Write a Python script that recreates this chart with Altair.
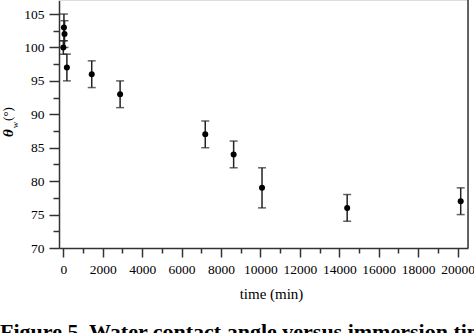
import altair as alt
import pandas as pd

# data
TIME = [0, 30, 60, 180, 1440, 2880, 7200, 8640, 10080, 14400, 20160]
ANGLE = [100, 103, 102, 97, 96, 93, 87, 84, 79, 76, 77]
ERR_LO = [99, 101, 100, 95, 94, 91, 85, 82, 76, 74, 75]
ERR_HI = [101, 105, 104, 99, 98, 95, 89, 86, 82, 78, 79]

X_TICKS = [0, 1000, 2000, 3000, 4000, 5000, 6000, 7000, 8000, 9000, 10000,
           11000, 12000, 13000, 14000, 15000, 16000, 17000, 18000, 19000, 20000]
Y_TICKS = [70, 72.5, 75, 77.5, 80, 82.5, 85, 87.5, 90, 92.5, 95, 97.5, 100, 102.5, 105]

X_TITLE = "time (min)"
CAPTION = "Figure  5.   Water  contact  angle  versus  immersion  time"

df = pd.DataFrame({"t": TIME, "a": ANGLE, "lo": ERR_LO, "hi": ERR_HI})
one = pd.DataFrame({"k": [0]})

W, H = 409, 248
FONT = "Liberation Serif"
AX = "#333333"

xscale = alt.Scale(domain=[-220, 20530], nice=False, zero=False)
yscale = alt.Scale(domain=[70, 107.1], nice=False, zero=False)

xaxis = alt.Axis(
    values=X_TICKS,
    labelExpr="datum.value % 2000 === 0 ? datum.label : ''",
    tickSize={"expr": "datum.value % 2000 === 0 ? 9 : 5"},
    format="d",
    grid=False,
    labelOverlap=False,
    labelFont=FONT,
    labelFontSize=13.5,
    labelColor="black",
    title=X_TITLE,
    titleFont=FONT,
    titleFontSize=15,
    titleFontWeight="normal",
    titleColor="black",
    titlePadding=11,
    titleX=212,
    labelPadding=5,
    domainColor=AX, domainWidth=1.5, tickColor=AX, tickWidth=1.5,
)
yaxis = alt.Axis(
    values=Y_TICKS,
    labelExpr="datum.value % 5 === 0 ? datum.label : ''",
    tickSize={"expr": "datum.value % 5 === 0 ? 10 : 6"},
    format="d",
    grid=False,
    labelOverlap=False,
    labelFont=FONT,
    labelFontSize=13.5,
    labelColor="black",
    title=None,
    labelPadding=5,
    domainColor=AX, domainWidth=1.5, tickColor=AX, tickWidth=1.5,
)

base = alt.Chart(df)
X = alt.X("t:Q", scale=xscale, axis=xaxis)

bars = base.mark_rule(color="#222222", strokeWidth=1.5).encode(
    x=X,
    y=alt.Y("lo:Q", scale=yscale, axis=yaxis),
    y2="hi:Q",
)
cap_lo = base.mark_tick(color="#222222", thickness=1.5, size=8, orient="horizontal").encode(
    x=X, y=alt.Y("lo:Q", scale=yscale, axis=yaxis)
)
cap_hi = base.mark_tick(color="#222222", thickness=1.5, size=8, orient="horizontal").encode(
    x=X, y=alt.Y("hi:Q", scale=yscale, axis=yaxis)
)
pts = base.mark_circle(color="black", opacity=1, size=36).encode(
    x=X, y=alt.Y("a:Q", scale=yscale, axis=yaxis)
)

frame = alt.Chart(one).mark_rule(color=AX, strokeWidth=1.5).encode(
    x=alt.value(W), y=alt.value(0), y2=alt.value(H)
)
topframe = alt.Chart(one).mark_rule(color="#dddddd", strokeWidth=1).encode(
    x=alt.value(0), x2=alt.value(W), y=alt.value(0.5)
)

theta = alt.Chart(one).mark_text(
    text="θ", angle=270, font=FONT, fontSize=15, fontStyle="italic", fontWeight="bold",
    align="center", baseline="middle", color="black"
).encode(x=alt.value(-51), y=alt.value(133))
sub = alt.Chart(one).mark_text(
    text="w", angle=270, font=FONT, fontSize=9, align="center", baseline="middle", color="black"
).encode(x=alt.value(-44), y=alt.value(125))
deg = alt.Chart(one).mark_text(
    text="(°)", angle=270, font=FONT, fontSize=13, align="center", baseline="middle", color="black"
).encode(x=alt.value(-51), y=alt.value(114))

caption = alt.Chart(one).mark_text(
    text=CAPTION, font=FONT, fontSize=22, fontWeight="bold", align="left", baseline="top",
    color="black"
).encode(x=alt.value(-59), y=alt.value(322))

chart = alt.layer(topframe, bars, cap_lo, cap_hi, pts, frame, theta, sub, deg, caption).properties(
    width=W, height=H,
    autosize=alt.AutoSizeParams(type="none"),
    padding={"left": 59, "top": 0, "right": 6, "bottom": 85},
).configure_view(stroke=None).configure_axis(labelOverlap=False).configure(background="white")

chart.save("out.html", embed_options={"renderer": "svg", "actions": False})
